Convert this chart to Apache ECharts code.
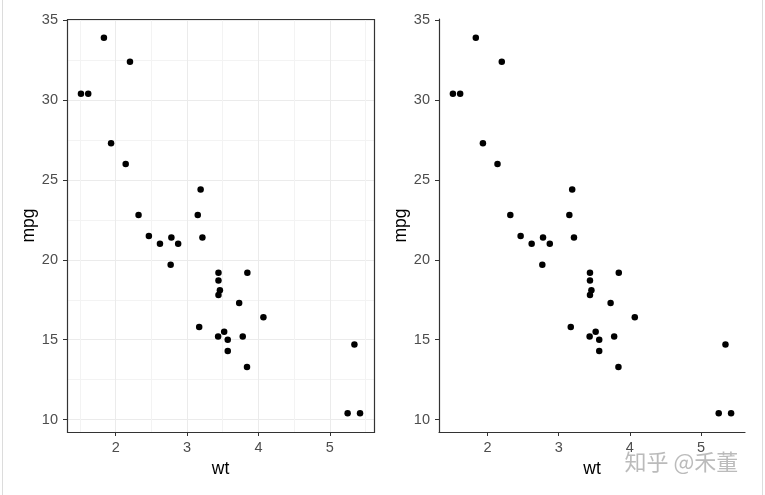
<!DOCTYPE html>
<html><head><meta charset="utf-8">
<script src="https://cdn.jsdelivr.net/npm/echarts@6/dist/echarts.min.js"></script>
<style>html,body{margin:0;padding:0;background:#fff}#c{width:765px;height:495px}</style>
</head><body><div id="c"></div>
<script>
const wt  = [2.620,2.875,2.320,3.215,3.440,3.460,3.570,3.190,3.150,3.440,3.440,4.070,3.730,3.780,5.250,5.424,5.345,2.200,1.615,1.835,2.465,3.520,3.435,3.840,3.845,1.935,2.140,1.513,3.170,2.770,3.570,2.780];
const mpg = [21.0,21.0,22.8,21.4,18.7,18.1,14.3,24.4,22.8,19.2,17.8,16.4,17.3,15.2,10.4,10.4,14.7,32.4,30.4,33.9,21.5,15.5,15.2,13.3,19.2,27.3,26.0,30.4,15.8,19.7,15.0,21.4];
const xTicks = [2,3,4,5];
const yTicks = [10,15,20,25,30,35];
const xTitle = 'wt', yTitle = 'mpg';
const watermark = '知乎 @禾董';

const pts = wt.map((w,i)=>[w, mpg[i]]);
const xr = [Math.min(...wt), Math.max(...wt)];
const yr = [Math.min(...mpg), Math.max(...mpg)];
const xpad = (xr[1]-xr[0])*0.05, ypad = (yr[1]-yr[0])*0.05;
const font = 'Liberation Sans, Arial, sans-serif';

const G0 = {left:67, top:19, width:307, height:413};
const G1 = {left:439, top:19, width:306, height:413};

function xAxis(idx, bw){
  return {
    type:'value', gridIndex:idx, min:xr[0]-xpad, max:xr[1]+xpad,
    name:xTitle, nameLocation:'middle', nameGap:28,
    nameTextStyle:{color:'#000', fontSize:17.5, fontFamily:font},
    axisLine:{show:!bw, lineStyle:{color:'#333', width:1.2}},
    axisTick:{show:true, length:4, customValues:xTicks, lineStyle:{color:'#333', width:1}},
    axisLabel:{customValues:xTicks, color:'#4d4d4d', fontSize:14.5, fontFamily:font, margin:8},
    splitLine:{show:bw, lineStyle:{color:'#ebebeb', width:1}},
    minorTick:{show:false, splitNumber:2},
    minorSplitLine:{show:bw, lineStyle:{color:'#f3f3f3', width:1}}
  };
}
function yAxis(idx, bw){
  return {
    type:'value', gridIndex:idx, min:yr[0]-ypad, max:yr[1]+ypad,
    name:yTitle, nameLocation:'middle', nameGap:bw?27:26,
    nameTextStyle:{color:'#000', fontSize:17.5, fontFamily:font},
    axisLine:{show:!bw, lineStyle:{color:'#333', width:1.2}},
    axisTick:{show:true, length:4, customValues:yTicks, lineStyle:{color:'#333', width:1}},
    axisLabel:{customValues:yTicks, color:'#4d4d4d', fontSize:14.5, fontFamily:font, margin:9},
    splitLine:{show:bw, lineStyle:{color:'#ebebeb', width:1}},
    minorTick:{show:false, splitNumber:2},
    minorSplitLine:{show:bw, lineStyle:{color:'#f3f3f3', width:1}}
  };
}

const chart = echarts.init(document.getElementById('c'), null, {renderer:'canvas'});
chart.setOption({
  animation:false,
  backgroundColor:'#fff',
  grid:[
    Object.assign({show:false}, G0),
    Object.assign({show:false}, G1)
  ],
  xAxis:[xAxis(0,true), xAxis(1,false)],
  yAxis:[yAxis(0,true), yAxis(1,false)],
  series:[
    {type:'scatter', xAxisIndex:0, yAxisIndex:0, data:pts, symbolSize:6.5, itemStyle:{color:'#000', opacity:1}},
    {type:'scatter', xAxisIndex:1, yAxisIndex:1, data:pts, symbolSize:6.5, itemStyle:{color:'#000', opacity:1}}
  ],
  graphic:[
    {type:'rect', z:100, shape:{x:G0.left+0.5, y:G0.top+0.5, width:G0.width, height:G0.height}, style:{fill:'none', stroke:'#333', lineWidth:1.2}, silent:true},
    {type:'line', shape:{x1:2.5,y1:0,x2:2.5,y2:495}, style:{stroke:'#dcdcdc', lineWidth:1}, silent:true},
    {type:'line', shape:{x1:762.5,y1:0,x2:762.5,y2:495}, style:{stroke:'#dcdcdc', lineWidth:1}, silent:true},
    {type:'text', z:100, left:624, top:450, style:{text:watermark, fill:'rgba(180,180,180,0.9)', fontSize:22, fontFamily:'Noto Sans CJK SC, sans-serif', stroke:'rgba(255,255,255,0.6)', lineWidth:1}, silent:true}
  ]
});
</script></body></html>
